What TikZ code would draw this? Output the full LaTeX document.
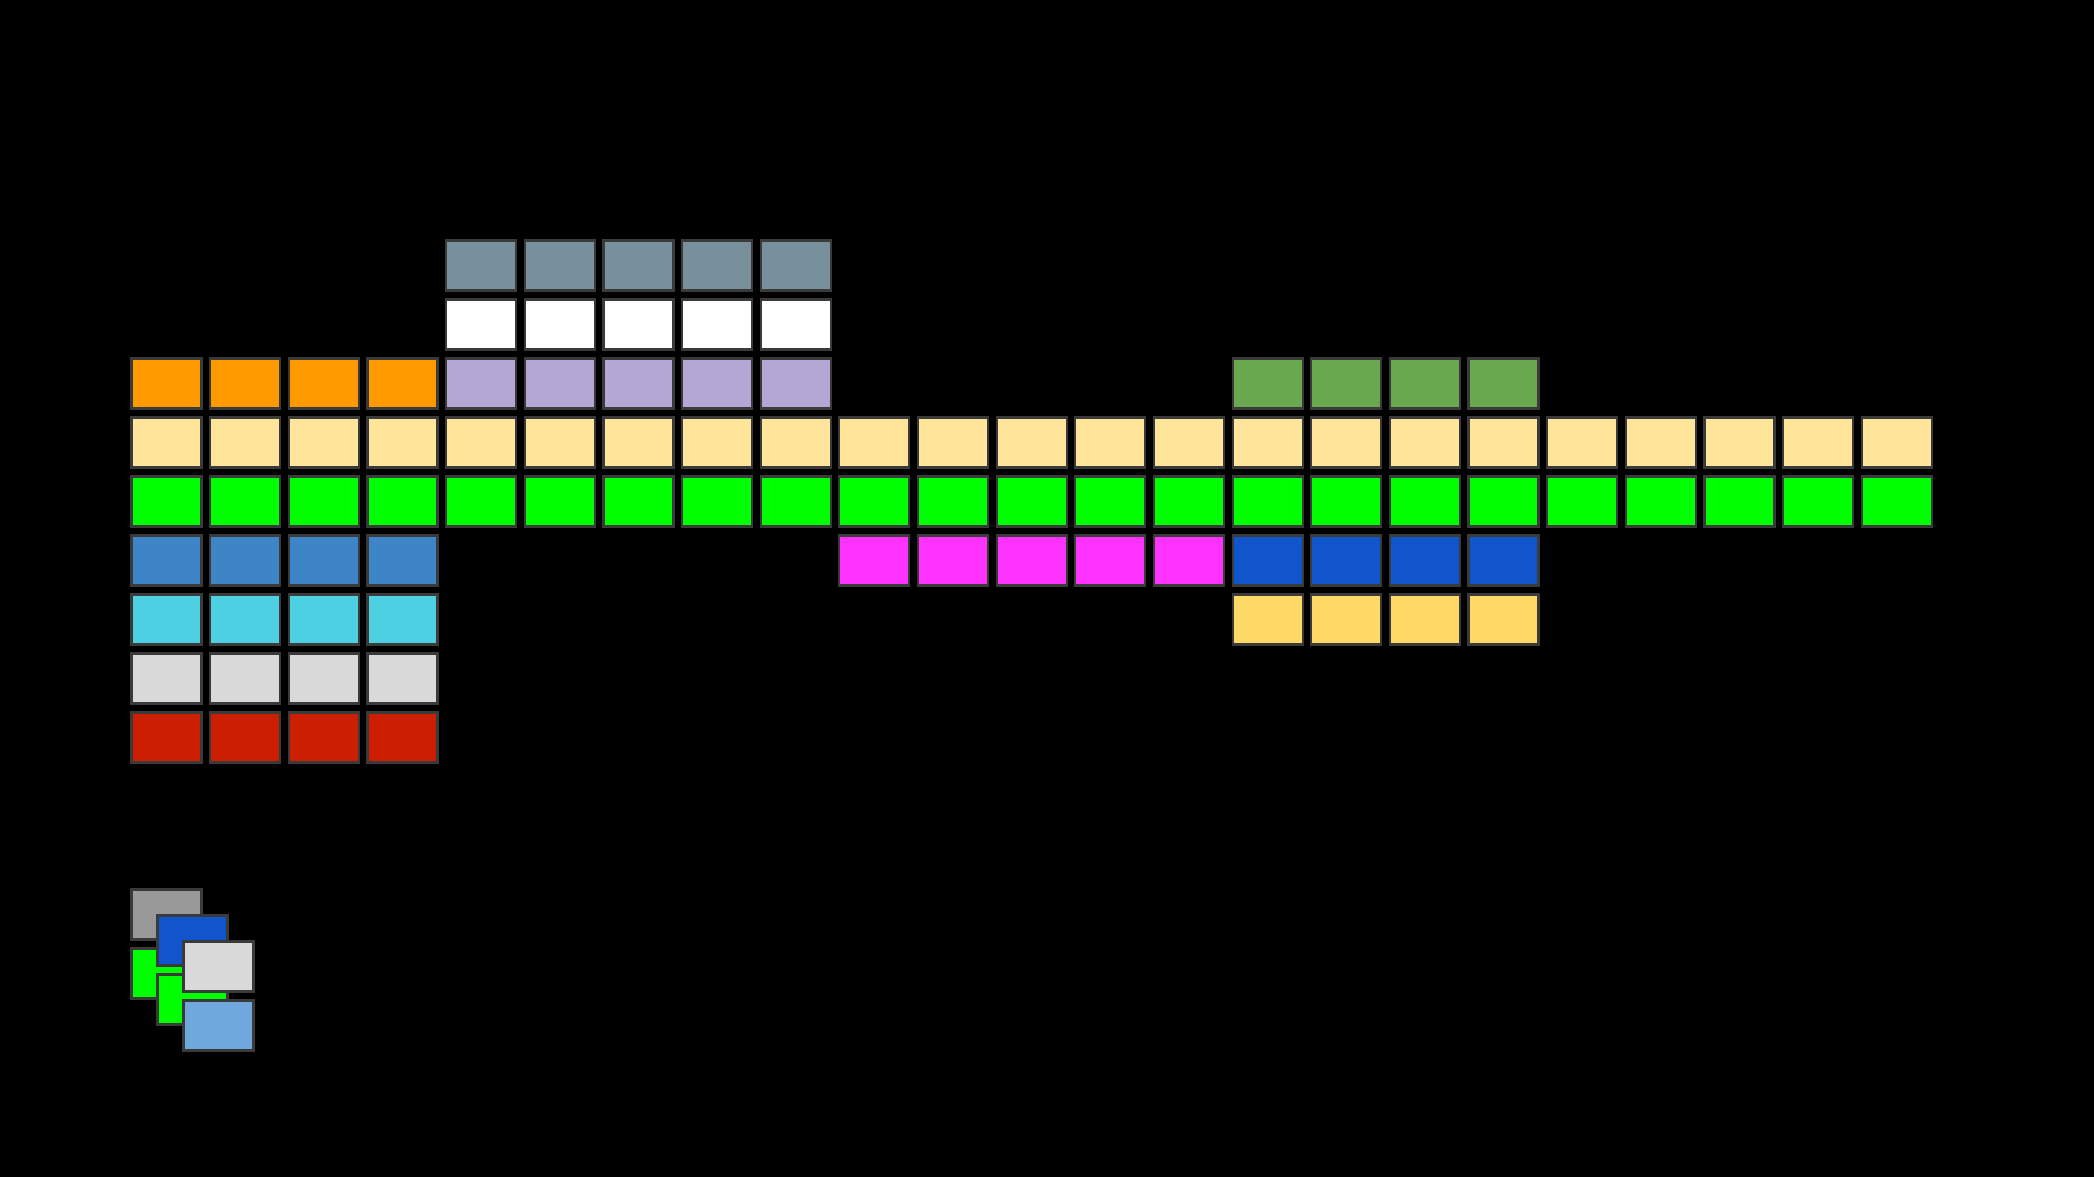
\documentclass[tikz,border=0pt]{standalone}
\usepackage{tikz}
\definecolor{cellline}{HTML}{3A3A3A}
\definecolor{slate}{HTML}{78909C}
\definecolor{lavender}{HTML}{B4A7D6}
\definecolor{amber}{HTML}{FF9900}
\definecolor{cream}{HTML}{FFE599}
\definecolor{lime}{HTML}{00FF00}
\definecolor{steel}{HTML}{3D85C6}
\definecolor{aqua}{HTML}{4DD0E1}
\definecolor{silver}{HTML}{D9D9D9}
\definecolor{brick}{HTML}{CC1E00}
\definecolor{moss}{HTML}{6AA84F}
\definecolor{fuchsia}{HTML}{FF33FF}
\definecolor{royal}{HTML}{1155CC}
\definecolor{gold}{HTML}{FFD966}
\definecolor{ash}{HTML}{999999}
\definecolor{sky}{HTML}{6FA8DC}

\begin{document}
\begin{tikzpicture}[x=39.325pt, y=-29.5pt,
  cell/.style={draw=cellline, line width=1.1pt, minimum width=35pt,
    minimum height=25pt, inner sep=0pt, outer sep=0pt},
  key/.style={cell, xshift=13pt, yshift=-13pt}]
  \useasboundingbox (-2.117,-4.5) rectangle (24.507,15.432);
  \fill[black] (-2.2,-4.6) rectangle (24.6,15.5);
  \foreach \c in {4,...,8} {
    \node[cell, fill=slate] (r0-\c) at (\c,0) {};
    \node[cell, fill=white] (r1-\c) at (\c,1) {};
    \node[cell, fill=lavender] (r2-\c) at (\c,2) {};
  }
  \foreach \c in {0,...,3} {
    \node[cell, fill=amber] (r2-\c) at (\c,2) {};
    \node[cell, fill=steel] (r5-\c) at (\c,5) {};
    \node[cell, fill=aqua] (r6-\c) at (\c,6) {};
    \node[cell, fill=silver] (r7-\c) at (\c,7) {};
    \node[cell, fill=brick] (r8-\c) at (\c,8) {};
  }
  \foreach \c in {0,...,22} {
    \node[cell, fill=cream] (r3-\c) at (\c,3) {};
    \node[cell, fill=lime] (r4-\c) at (\c,4) {};
  }
  \foreach \c in {9,...,13}
    \node[cell, fill=fuchsia] (r5-\c) at (\c,5) {};
  \foreach \c in {14,...,17} {
    \node[cell, fill=moss] (r2-\c) at (\c,2) {};
    \node[cell, fill=royal] (r5-\c) at (\c,5) {};
    \node[cell, fill=gold] (r6-\c) at (\c,6) {};
  }
  \node[cell, fill=ash] (k-ash) at (0,11) {};
  \node[cell, fill=lime] (k-lime) at (0,12) {};
  \node[key, fill=royal] (k-royal) at (k-ash) {};
  \node[key, fill=lime] (k-lime2) at (k-lime) {};
  \node[key, fill=silver] (k-silver) at (k-royal) {};
  \node[key, fill=sky] (k-sky) at (k-lime2) {};
\end{tikzpicture}
\end{document}
